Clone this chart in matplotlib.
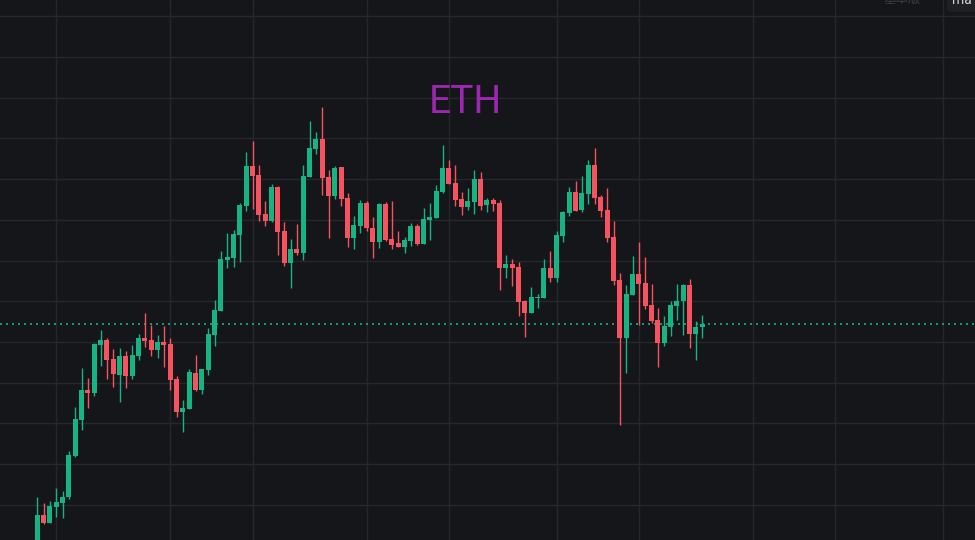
import matplotlib
matplotlib.use("Agg")
import matplotlib.pyplot as plt
from matplotlib.patches import Rectangle, FancyBboxPatch
import numpy as np

# ---- data (OHLC) ----
opens = [1752, 1785, 1777, 1793, 1797, 1803, 1844, 1880, 1910, 1907,
         1955, 1960, 1941, 1925, 1944, 1924, 1944, 1962, 1960, 1950,
         1958, 1956, 1921, 1888, 1891, 1927, 1910, 1930, 1965, 1989,
         2040, 2042, 2065, 2094, 2134, 2125, 2086, 2079, 2113, 2069,
         2037, 2051, 2047, 2123, 2151, 2161, 2123, 2104, 2133, 2102,
         2062, 2074, 2097, 2072, 2058, 2096, 2061, 2057, 2053, 2059,
         2074, 2056, 2080, 2082, 2108, 2132, 2117, 2101, 2093, 2098,
         2121, 2095, 2100, 2097, 2032, 2036, 2033, 1999, 1987, 2002,
         2002, 2032, 2022, 2064, 2087, 2108, 2090, 2106, 2135, 2103,
         2090, 2063, 2020, 1962, 2005, 2026, 2017, 1995, 1980, 1957,
         1973, 1994, 1999, 2015, 1966, 1973]
highs = [1803, 1797, 1799, 1812, 1809, 1849, 1893, 1932, 1922, 1957,
         1970, 1962, 1951, 1952, 1949, 1955, 1966, 1987, 1975, 1965,
         1974, 1962, 1924, 1900, 1931, 1945, 1931, 1972, 2000, 2049,
         2067, 2070, 2097, 2148, 2159, 2135, 2099, 2116, 2114, 2078,
         2061, 2076, 2135, 2179, 2168, 2193, 2130, 2134, 2133, 2107,
         2084, 2100, 2099, 2083, 2097, 2098, 2099, 2069, 2063, 2077,
         2076, 2092, 2097, 2115, 2155, 2140, 2135, 2108, 2112, 2130,
         2128, 2102, 2102, 2100, 2045, 2041, 2038, 2000, 2013, 2006,
         2041, 2049, 2069, 2089, 2113, 2119, 2124, 2140, 2152, 2105,
         2112, 2079, 2027, 2015, 2044, 2058, 2043, 2016, 1992, 1984,
         1999, 2016, 2016, 2021, 1979, 1985]
lows = [1744, 1776, 1777, 1783, 1782, 1801, 1843, 1870, 1892, 1904,
        1934, 1921, 1913, 1898, 1912, 1921, 1940, 1953, 1944, 1942,
        1933, 1910, 1883, 1868, 1891, 1909, 1906, 1925, 1954, 1989,
        2032, 2033, 2038, 2089, 2091, 2079, 2074, 2078, 2045, 2034,
        2012, 2045, 2040, 2123, 2146, 2105, 2062, 2101, 2094, 2053,
        2051, 2067, 2069, 2042, 2052, 2059, 2051, 2053, 2047, 2054,
        2055, 2056, 2060, 2082, 2107, 2116, 2094, 2085, 2090, 2086,
        2090, 2088, 2089, 2010, 2022, 2014, 1984, 1963, 1987, 1992,
        2002, 2018, 2018, 2058, 2084, 2089, 2088, 2096, 2096, 2083,
        2058, 2015, 1875, 1927, 2005, 1975, 1991, 1977, 1933, 1954,
        1964, 1980, 1965, 1952, 1940, 1962]
closes = [1785, 1777, 1794, 1798, 1803, 1845, 1881, 1910, 1907, 1956,
          1960, 1940, 1926, 1944, 1924, 1945, 1962, 1959, 1950, 1958,
          1955, 1920, 1888, 1892, 1928, 1910, 1931, 1966, 1990, 2041,
          2043, 2066, 2095, 2134, 2124, 2085, 2079, 2113, 2068, 2037,
          2051, 2047, 2124, 2152, 2161, 2122, 2104, 2132, 2101, 2062,
          2075, 2097, 2072, 2058, 2096, 2060, 2055, 2053, 2060, 2074,
          2056, 2081, 2083, 2109, 2132, 2116, 2100, 2093, 2099, 2121,
          2094, 2100, 2096, 2032, 2036, 2032, 1998, 1987, 2003, 2003,
          2032, 2022, 2065, 2088, 2108, 2089, 2107, 2135, 2102, 2089,
          2062, 2019, 1962, 2006, 2026, 2016, 1994, 1979, 1957, 1974,
          1995, 1999, 2015, 1966, 1973, 1976]
symbol = "ETH"
grid_candles = [3, 21, 34, 52, 65, 82, 95, 113, 126, 143]

# ---- style ----
BG = "#151619"
GRID = "#25272c"
UP = "#16b383"
DOWN = "#f6525f"

fig = plt.figure(figsize=(9.75, 5.4), dpi=100, facecolor=BG)
ax = fig.add_axes([0, 0, 1, 1])
ax.set_facecolor(BG)

x0, step = 37.3, 6.333  # pixel position of first candle and spacing
ax.set_xlim(-x0 / step, (975 - x0) / step)
ax.set_ylim(2300 - 540, 2300)

# grid
for g in grid_candles:
    ax.axvline(g, color=GRID, lw=1, zorder=0)
for gy in np.arange(2300 - 301.3 - 40.7 * 8, 2300, 40.7):
    ax.axhline(gy, color=GRID, lw=1, zorder=0)

bw = 0.78
for i, (o, h, l, c) in enumerate(zip(opens, highs, lows, closes)):
    col = UP if c >= o else DOWN
    ax.vlines(i, l, h, color=col, lw=1.0, zorder=2)
    bottom = min(o, c)
    height = max(abs(c - o), 0.8)
    ax.add_patch(Rectangle((i - bw / 2, bottom), bw, height,
                           facecolor=col, edgecolor=col, lw=0, zorder=3))

# last price line
ax.axhline(closes[-1], color=UP, lw=1.2, ls=(0, (1.2, 2.4)), zorder=1)

ax.set_xticks([])
ax.set_yticks([])
for s in ax.spines.values():
    s.set_visible(False)

# title
fig.text(465 / 975, 1 - 113 / 540, symbol, color="#9c27b0", fontsize=28,
         ha="center", va="baseline", family="Roboto")

# top-right UI hints (clipped at the top edge, as in the reference)
fig.patches.append(FancyBboxPatch((947 / 975, 1 - 12 / 540), 40 / 975, 20 / 540,
                                  boxstyle="round,pad=0,rounding_size=0.006",
                                  transform=fig.transFigure, facecolor="#1f2024",
                                  edgecolor="none"))
fig.text(952 / 975, 1 - 4 / 540, "ma", color="#d0d0d0", fontsize=10,
         ha="left", va="baseline", family="Roboto")
fig.text(884 / 975, 1 - 3 / 540, "基本版", color="#3a3c44", fontsize=9,
         ha="left", va="baseline", family=["Noto Sans CJK SC", "DejaVu Sans"])

fig.savefig("out.png", dpi=100, facecolor=BG)
